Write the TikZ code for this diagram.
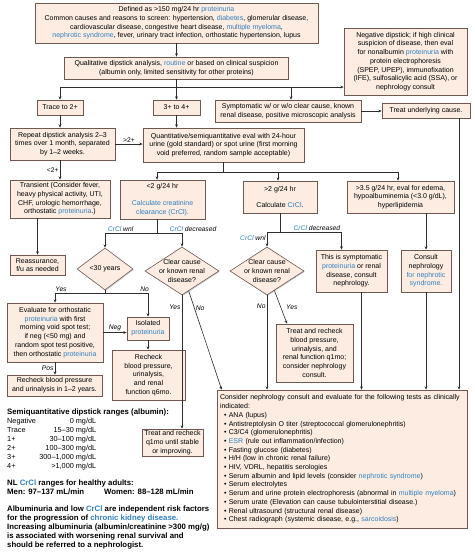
\documentclass[tikz,border=0pt]{standalone}
\usepackage{fontspec}
\setmainfont{Liberation Sans}
\usetikzlibrary{positioning, arrows.meta, shapes.geometric, shadows}

\definecolor{boxfill}{RGB}{252,236,226}
\definecolor{boxline}{RGB}{110,88,80}
\definecolor{linkblue}{RGB}{48,128,190}
\definecolor{linegray}{RGB}{45,45,45}

\newcommand{\kw}[1]{\textcolor{linkblue}{#1}}
\newcommand{\boxfont}{\fontsize{7}{8.7}\selectfont}
\newcommand{\notefont}{\fontsize{7.3}{8.9}\selectfont}
\newcommand{\boldfont}{\fontsize{7.8}{9}\selectfont\bfseries}
\newcommand{\tagfont}{\fontsize{6.7}{7.5}\selectfont}

\begin{document}
\begin{tikzpicture}[x=1pt, y=-1pt, >={Stealth[length=3.4pt, width=2.8pt]},
    box/.style={draw=boxline, fill=boxfill, line width=0.6pt, align=center,
        inner sep=1.5pt, font=\boxfont,
        drop shadow={shadow xshift=0.9pt, shadow yshift=-0.9pt, opacity=0.35}},
    decision/.style={diamond, draw=boxline, fill=boxfill, line width=0.6pt,
        inner sep=0pt, font=\boxfont,
        drop shadow={shadow xshift=0.9pt, shadow yshift=-0.9pt, opacity=0.35}},
    dtext/.style={align=center, font=\boxfont, inner sep=0pt},
    conn/.style={draw=linegray, line width=0.6pt},
    tag/.style={font=\tagfont, inner sep=1.2pt},
    branch/.style={font=\tagfont\itshape, inner sep=1.2pt},
    note/.style={font=\notefont, align=left, inner sep=0pt, anchor=north west}]

    \path[use as bounding box, fill=white] (0,0) rectangle (474,557);

    % screening and dipstick
    \node[box, minimum width=283pt, minimum height=40pt] (top) at (176.5,23)
        {Defined as >150 mg/24 hr \kw{proteinuria}\\
         Common causes and reasons to screen: hypertension, \kw{diabetes}, glomerular disease,\\
         cardiovascular disease, congestive heart disease, \kw{multiple myeloma},\\
         \kw{nephrotic syndrome}, fever, urinary tract infection, orthostatic hypertension, lupus};
    \node[box, minimum width=224pt, minimum height=22pt] (qual) at (176.5,68)
        {Qualitative dipstick analysis, \kw{routine} or based on clinical suspicion\\
         (albumin only, limited sensitivity for other proteins)};
    \node[box, minimum width=123pt, minimum height=67pt] (neg) at (405.5,61.5)
        {Negative dipstick; if high clinical\\ suspicion of disease, then eval\\
         for nonalbumin \kw{proteinuria} with\\ protein electrophoresis\\
         (SPEP, UPEP), immunofixation\\ (IFE), sulfosalicylic acid (SSA), or\\
         nephrology consult};
    \node[box, minimum width=46pt, minimum height=15pt] (trace) at (60,107.5) {Trace to 2+};
    \node[box, minimum width=47pt, minimum height=15pt] (three) at (176.5,107.5) {3+ to 4+};
    \node[box, minimum width=146pt, minimum height=22pt] (sympt) at (288,111)
        {Symptomatic w/ or w/o clear cause, known\\ renal disease, positive microscopic analysis};
    \node[box, minimum width=88pt, minimum height=15pt] (treatu) at (426,110.5) {Treat underlying cause.};

    % quantitative work-up
    \node[box, minimum width=105pt, minimum height=32pt] (repeat) at (62.5,144)
        {Repeat dipstick analysis 2--3\\ times over 1 month, separated\\ by 1--2 weeks.};
    \node[box, minimum width=161pt, minimum height=34pt] (quant) at (223.5,145)
        {Quantitative/semiquantitative eval with 24-hour\\
         urine (gold standard) or spot urine (first morning\\
         void preferred, random sample acceptable)};
    \node[box, minimum width=100pt, minimum height=38pt] (trans) at (60,199)
        {Transient (Consider fever,\\ heavy physical activity, UTI,\\
         CHF, urologic hemorrhage,\\ orthostatic \kw{proteinuria}.)};
    \node[box, minimum width=85pt, minimum height=39pt] (lt2) at (162.5,199.5)
        {<2 g/24 hr\\[8pt] \kw{Calculate creatinine}\\ \kw{clearance (CrCl).}};
    \node[box, minimum width=74pt, minimum height=32pt] (gt2) at (280,197)
        {>2 g/24 hr\\[8pt] Calculate \kw{CrCl}.};
    \node[box, minimum width=107pt, minimum height=32pt] (gt35) at (400.5,197)
        {>3.5 g/24 hr, eval for edema,\\ hypoalbuminemia (<3.0 g/dL),\\ hyperlipidemia};
    \node[box, minimum width=55pt, minimum height=20pt] (reass) at (37.5,265)
        {Reassurance,\\ f/u as needed};

    % decisions
    \node[decision, minimum width=56pt, minimum height=42pt] (dia1) at (105,269) {<30 years};
    \node[decision, minimum width=74pt, minimum height=48pt,
        label={[dtext]center:Clear cause\\or known renal\\disease?}] (dia2) at (182,271) {};
    \node[decision, minimum width=74pt, minimum height=48pt,
        label={[dtext]center:Clear cause\\or known renal\\disease?}] (dia3) at (267,271) {};
    \node[box, minimum width=71pt, minimum height=42pt] (sympren) at (351.5,271)
        {This is symptomatic\\ \kw{proteinuria} or renal\\ disease, consult\\ nephrology.};
    \node[box, minimum width=50pt, minimum height=42pt] (consult) at (426,271)
        {Consult\\ nephrology\\ \kw{for nephrotic}\\ \kw{syndrome.}};

    % follow-up
    \node[box, minimum width=96pt, minimum height=59pt] (eval) at (55,332.5)
        {Evaluate for orthostatic\\ \kw{proteinuria} with first\\ morning void spot test;\\
         if neg (<50 mg) and\\ random spot test positive,\\ then orthostatic \kw{proteinuria}};
    \node[box, minimum width=42pt, minimum height=23pt] (isol) at (148,328.5)
        {Isolated\\ \kw{proteinuria}};
    \node[box, minimum width=77pt, minimum height=58pt] (trrb) at (314.5,353)
        {Treat and recheck\\ blood pressure,\\ urinalysis, and\\ renal function q1mo;\\
         consider nephrology\\ consult.};
    \node[box, minimum width=73pt, minimum height=50pt] (rech6) at (148.5,375)
        {Recheck\\ blood pressure,\\ urinalysis,\\ and renal\\ function q6mo.};
    \node[box, minimum width=95pt, minimum height=21pt] (rech12) at (54.5,385.5)
        {Recheck blood pressure\\ and urinalysis in 1--2 years.};
    \node[box, minimum width=61pt, minimum height=25pt] (treat1) at (172.5,442.5)
        {Treat and recheck\\ q1mo until stable\\ or improving.};
    \node[box, align=left, text width=244pt, minimum width=250pt, minimum height=138pt] (consider) at (342,459)
        {Consider nephrology consult and evaluate for the following tests as clinically\\
         indicated:\\
         \hspace*{4pt}\textbullet\ ANA (lupus)\\
         \hspace*{4pt}\textbullet\ Antistreptolysin O titer (streptococcal glomerulonephritis)\\
         \hspace*{4pt}\textbullet\ C3/C4 (glomerulonephritis)\\
         \hspace*{4pt}\textbullet\ \kw{ESR} (rule out inflammation/infection)\\
         \hspace*{4pt}\textbullet\ Fasting glucose (diabetes)\\
         \hspace*{4pt}\textbullet\ H/H (low in chronic renal failure)\\
         \hspace*{4pt}\textbullet\ HIV, VDRL, hepatitis serologies\\
         \hspace*{4pt}\textbullet\ Serum albumin and lipid levels (consider \kw{nephrotic syndrome})\\
         \hspace*{4pt}\textbullet\ Serum electrolytes\\
         \hspace*{4pt}\textbullet\ Serum and urine protein electrophoresis (abnormal in \kw{multiple myeloma})\\
         \hspace*{4pt}\textbullet\ Serum urate (Elevation can cause tubulointerstitial disease.)\\
         \hspace*{4pt}\textbullet\ Renal ultrasound (structural renal disease)\\
         \hspace*{4pt}\textbullet\ Chest radiograph (systemic disease, e.g., \kw{sarcoidosis})};

    % notes
    \node[note] (ranges) at (7,409)
        {{\boldfont Semiquantitative dipstick ranges (albumin):}\\
         \makebox[89pt]{Negative\hfill 0 mg/dL}\\
         \makebox[89pt]{Trace\hfill 15--30 mg/dL}\\
         \makebox[89pt]{1+\hfill 30--100 mg/dL}\\
         \makebox[89pt]{2+\hfill 100--300 mg/dL}\\
         \makebox[89pt]{3+\hfill 300--1,000 mg/dL}\\
         \makebox[89pt]{4+\hfill >1,000 mg/dL}};
    \node[note, font=\boldfont] (crcl) at (7,479.5)
        {NL \kw{CrCl} ranges for healthy adults:\\
         \makebox[97pt][l]{Men: 97--137 mL/min}Women: 88--128 mL/min};
    \node[note, font=\boldfont] (risk) at (7,505.5)
        {Albuminuria and low \kw{CrCl} are independent risk factors\\
         for the progression of \kw{chronic kidney disease.}\\
         Increasing albuminuria (albumin/creatinine >300 mg/g)\\
         is associated with worsening renal survival and\\
         should be referred to a nephrologist.};

    % connectors, top part
    \coordinate (qj) at (176.5,87);
    \draw[conn,->] (top.south) -- (top.south |- qual.north);
    \draw[conn] (qual.south) -- (qj);
    \draw[conn,->] (trace.north |- qj) -- (neg.west |- qj);
    \draw[conn,->] (trace.north |- qj) -- (trace.north);
    \draw[conn,->] (qj) -- (three.north);
    \coordinate (symin) at ([xshift=3pt]sympt.north);
    \draw[conn,->] (symin |- qj) -- (symin);
    \draw[conn,->] (sympt.east) -- (sympt.east -| treatu.west);
    \coordinate (tuout) at ([xshift=33pt]treatu.south);
    \draw[conn,->] (tuout) -- (tuout |- consider.north);

    % connectors, dipstick results
    \draw[conn,->] (trace.south) -- (trace.south |- repeat.north);
    \draw[conn,->] (three.south) -- (three.south |- quant.north);
    \draw[conn,->] (repeat.east) -- (repeat.east -| quant.west) node[tag, midway, above] {>2+};
    \draw[conn,->] (trans.north |- repeat.south) -- (trans.north) node[tag, midway, left] {<2+};
    \draw[conn,->] (reass.north |- trans.south) -- (reass.north);

    % connectors, 24-hour urine split
    \coordinate (qs) at (223.5,172);
    \coordinate (lt2in) at ([xshift=-5.5pt]lt2.north);
    \coordinate (gt2in) at ([xshift=-2pt]gt2.north);
    \coordinate (gt35in) at ([xshift=-2.5pt]gt35.north);
    \draw[conn] (quant.south) -- (qs);
    \draw[conn] (lt2in |- qs) -- (gt35in |- qs);
    \draw[conn,->] (lt2in |- qs) -- (lt2in);
    \draw[conn,->] (gt2in |- qs) -- (gt2in);
    \draw[conn,->] (gt35in |- qs) -- (gt35in);

    % connectors, <2 g branch
    \coordinate (lt2out) at ([xshift=-5.5pt]lt2.south);
    \coordinate (ls) at (157,233);
    \draw[conn] (lt2out) -- (ls);
    \draw[conn,->] (ls) -| (dia1.north) node[branch, pos=0.35, above] {\kw{CrCl} wnl};
    \draw[conn,->] (ls) -| (dia2.north) node[branch, pos=0.5, above, xshift=11pt] {\kw{CrCl} decreased};
    \coordinate (d1s) at (105,293);
    \draw[conn] (dia1.south) -- (d1s);
    \draw[conn,->] (d1s) -| (eval.north) node[branch, pos=0.44, above] {Yes};
    \draw[conn,->] (d1s) -| (isol.north) node[branch, pos=0.46, above] {No};
    \draw[conn,->] (eval.east) -- (eval.east -| isol.west) node[branch, midway, above] {Neg};
    \draw[conn,->] (isol.south) -- (isol.south |- rech6.north);
    \draw[conn,->] (eval.south) -- (eval.south |- rech12.north) node[branch, midway, left] {Pos};
    \draw[conn,->] (dia2.south) -- (dia2.south |- treat1.north) node[branch, pos=0.09, left] {Yes};
    \draw[conn,->] (dia2) -- ([xshift=5pt]consider.north west) node[branch, pos=0.17, right] {No};

    % connectors, >2 g branch
    \coordinate (gs) at (280,232);
    \coordinate (sympin) at ([xshift=-10pt]sympren.north);
    \coordinate (sympout) at ([xshift=10pt]sympren.south);
    \draw[conn] (gt2.south) -- (gs);
    \draw[conn,->] (gs) -| (dia3.north) node[branch, pos=0.7, left] {\kw{CrCl} wnl};
    \draw[conn,->] (gs) -| (sympin) node[branch, pos=0.3, above] {\kw{CrCl} decreased};
    \draw[conn,->] (dia3.south) -- (dia3.south |- consider.north) node[branch, pos=0.12, left] {No};
    \draw[conn,->] (dia3) -- ([xshift=-27.5pt]trrb.north) node[branch, pos=0.5, right, xshift=4pt] {Yes};
    \draw[conn,->] (sympout) -- (sympout |- consider.north);

    % connectors, >3.5 g branch
    \draw[conn,->] (consult.north |- gt35.south) -- (consult.north);
    \draw[conn,->] (consult.south) -- (consult.south |- consider.north);
\end{tikzpicture}
\end{document}
